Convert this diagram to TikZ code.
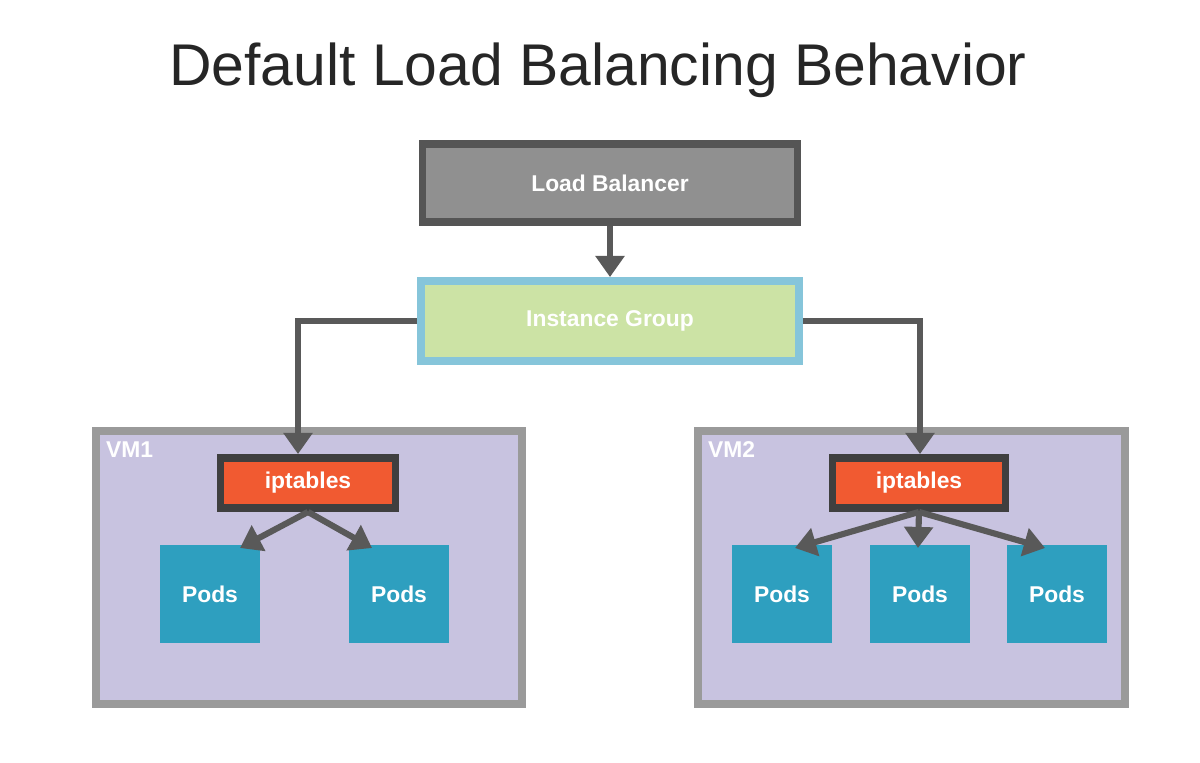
\documentclass[tikz,border=0pt]{standalone}
\usepackage{fontspec}
\setmainfont{Liberation Sans}
\usetikzlibrary{calc,arrows.meta}
\definecolor{lbgray}{HTML}{909090}
\definecolor{lbedge}{HTML}{555555}
\definecolor{iggreen}{HTML}{CCE3A5}
\definecolor{igedge}{HTML}{86C5DA}
\definecolor{vmfill}{HTML}{C8C3E0}
\definecolor{vmedge}{HTML}{9A9A9A}
\definecolor{iporange}{HTML}{F15A31}
\definecolor{ipedge}{HTML}{3F3F3F}
\definecolor{podblue}{HTML}{2E9FBF}
\definecolor{arrowgray}{HTML}{595959}
\tikzset{
  box/.style={draw, line width=4.5pt, inner sep=0pt, text=white, font=\bfseries\fontsize{13}{15}\selectfont},
  pod/.style={fill=podblue, minimum width=2cm, minimum height=1.96cm, inner sep=0pt, text=white, font=\bfseries\fontsize{13}{15}\selectfont},
  flow/.style={arrowgray, line width=3.5pt, -{Triangle[length=12pt,width=16pt]}},
}
\begin{document}
\begin{tikzpicture}[x=0.02cm,y=-0.02cm]
  \useasboundingbox (0,0) rectangle (1200,763);
  \node[font=\fontsize{33.5}{40}\selectfont, text=black!85] (Title) at (598,70) {Default Load Balancing Behavior};

  % virtual machines
  \draw[fill=vmfill, draw=vmedge, line width=5pt] (96,431) rectangle (522,704);
  \draw[fill=vmfill, draw=vmedge, line width=5pt] (698,431) rectangle (1125,704);
  \node[anchor=west, text=white, font=\bfseries\fontsize{13}{15}\selectfont] (VMOne) at (100,450) {VM1};
  \node[anchor=west, text=white, font=\bfseries\fontsize{13}{15}\selectfont] (VMTwo) at (702,450) {VM2};

  \node[box, fill=lbgray, draw=lbedge, minimum width=7.5cm, minimum height=1.56cm] (LB) at (610,183) {Load Balancer};
  \node[box, fill=iggreen, draw=igedge, minimum width=7.56cm, minimum height=1.6cm] (IG) at (610,321) {Instance Group};
  \node[box, fill=iporange, draw=ipedge, minimum width=3.5cm, minimum height=1.0cm] (IPOne) at (308,483) {iptables};
  \node[box, fill=iporange, draw=ipedge, minimum width=3.46cm, minimum height=1.0cm] (IPTwo) at (919,483) {iptables};

  \node[pod] (PodA) at (210,594) {Pods};% left machine
  \node[pod] (PodB) at (399,594) {Pods};
  \node[pod] (PodC) at (782,594) {Pods};% right machine
  \node[pod] (PodD) at (920,594) {Pods};
  \node[pod] (PodE) at (1057,594) {Pods};

  \coordinate (LeftTurn) at (298,321);
  \coordinate (RightTurn) at (920,321);
  \draw[flow] (LB.south) -- (IG.north);
  \draw[flow] (IG.west) -- (LeftTurn) -- (IPOne.north -| LeftTurn);
  \draw[flow] (IG.east) -- (RightTurn) -- (IPTwo.north -| RightTurn);

  \foreach \t in {240,372}{% arrows to the pods
    \draw[flow] (IPOne.south) -- (\t,548);
  }
  \foreach \t in {795,918,1045}{
    \draw[flow] (IPTwo.south) -- (\t,548);
  }
\end{tikzpicture}
\end{document}
